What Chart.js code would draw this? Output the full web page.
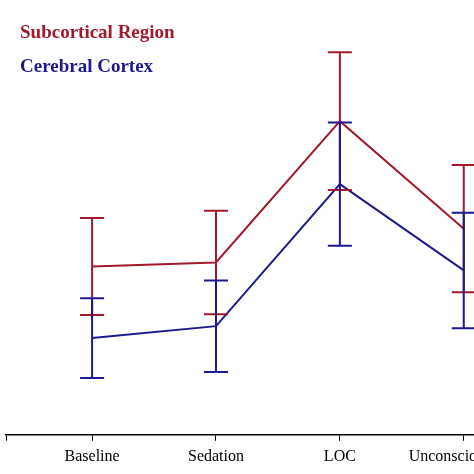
<!DOCTYPE html>
<html><head>
<script src="https://cdn.jsdelivr.net/npm/chart.js@4"></script>
<style>
html,body{margin:0;padding:0;background:#fff;overflow:hidden;}
#wrap{position:relative;width:474px;height:474px;overflow:hidden;}
.lg{position:absolute;left:20px;font:bold 19px "Liberation Serif",serif;}
</style></head>
<body><div id="wrap"><canvas id="c" width="540" height="474"></canvas>
<div class="lg" style="top:21px;color:#a3192c">Subcortical Region</div>
<div class="lg" style="top:55px;color:#1c1a8e">Cerebral Cortex</div>
</div>
<script>
const categories=["Baseline","Sedation","LOC","Unconsciousness"];
const subcortical=[42.3,43.3,78.8,51.8];
const subcorticalErr=[12.2,13.0,17.3,16.0];
const cortex=[24.3,27.3,63.0,41.3];
const cortexErr=[10.0,11.5,15.5,14.5];
const red="#a3192c", blue="#1c1a8e";
function pts(a){return a.map((v,i)=>({x:i,y:v}));}
const errPlugin={id:'err',afterDatasetsDraw(chart){
  const ctx=chart.ctx,xs=chart.scales.x,ys=chart.scales.y;
  chart.data.datasets.forEach(ds=>{
    ctx.save();ctx.strokeStyle=ds.borderColor;ctx.lineWidth=2;
    ds.data.forEach((p,i)=>{
      const x=xs.getPixelForValue(p.x),t=ys.getPixelForValue(p.y+ds.err[i]),b=ys.getPixelForValue(p.y-ds.err[i]);
      ctx.beginPath();ctx.moveTo(x,t);ctx.lineTo(x,b);
      ctx.moveTo(x-12,t);ctx.lineTo(x+12,t);ctx.moveTo(x-12,b);ctx.lineTo(x+12,b);ctx.stroke();
    });
    ctx.restore();
  });
}};
new Chart(document.getElementById('c'),{
  type:'line',
  data:{datasets:[
    {data:pts(subcortical),err:subcorticalErr,borderColor:red,borderWidth:2,pointRadius:0,tension:0},
    {data:pts(cortex),err:cortexErr,borderColor:blue,borderWidth:2,pointRadius:0,tension:0}
  ]},
  options:{responsive:false,animation:false,layout:{padding:{bottom:2}},
    plugins:{legend:{display:false},tooltip:{enabled:false}},
    scales:{
      x:{type:'linear',min:-0.695,max:3.567,
        ticks:{stepSize:1,autoSkip:false,maxRotation:0,color:'#000',font:{family:'Liberation Serif',size:16},padding:6,
          callback:v=>Number.isInteger(v)&&categories[v]?categories[v]:''},
        grid:{drawOnChartArea:false,color:'#000',tickLength:6},
        border:{display:true,color:'#000',width:1.5}},
      y:{display:false,min:0,max:109.25}
    }}
  ,plugins:[errPlugin]});
</script></body></html>
